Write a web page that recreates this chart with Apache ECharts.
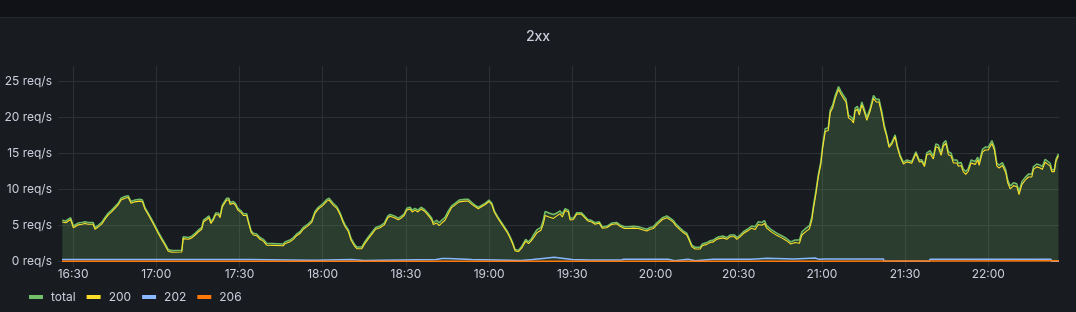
<!DOCTYPE html>
<html><head><meta charset="utf-8">
<script src="https://cdn.jsdelivr.net/npm/echarts@6/dist/echarts.min.js"></script>
<style>html,body{margin:0;padding:0;background:#181b1f;overflow:hidden}#chart{width:1076px;height:312px}</style>
</head><body><div id="chart"></div>
<script>
// Time offsets in minutes from 16:26
const startTime = '16:26';
const endOffset = 359.5;
const xTickLabels = ['16:30','17:00','17:30','18:00','18:30','19:00','19:30','20:00','20:30','21:00','21:30','22:00'];
const minutes = [0.1,1.4,3.1,4.1,4.7,5.8,7.2,8.3,9.4,11.2,11.9,13.0,14.3,15.5,16.7,17.9,19.1,20.3,21.3,22.7,23.9,24.9,26.3,28.1,29.0,29.9,31.1,32.4,33.5,34.7,36.0,37.1,38.3,39.6,43.2,43.7,45.6,46.8,48.0,49.2,50.4,51.0,52.2,53.0,53.7,54.6,55.4,56.4,57.0,57.8,58.8,59.4,60.2,60.6,61.8,62.6,63.4,64.6,65.4,66.6,67.2,68.2,69.0,70.2,71.4,72.6,73.8,74.4,79.8,80.4,82.2,83.4,84.6,85.8,87.0,88.8,90.1,91.2,92.4,94.2,95.5,96.3,97.8,99.1,100.3,101.4,102.1,103.3,104.2,105.4,106.3,108.1,109.0,110.5,111.9,113.1,114.7,116.2,117.5,118.3,119.8,121.3,122.5,123.4,124.3,125.5,126.3,127.3,128.3,129.5,130.7,131.9,133.3,133.9,135.1,136.0,136.9,138.1,139.3,140.5,141.7,143.2,145.3,146.5,147.8,148.9,150.1,151.4,152.5,154.0,155.0,155.9,157.1,158.3,159.5,160.7,161.6,162.4,163.4,164.6,165.8,167.2,168.2,169.1,170.0,171.2,172.7,173.6,174.2,175.6,177.2,178.4,179.6,180.4,181.4,182.6,183.2,184.4,185.6,187.2,188.4,189.6,191.0,192.2,193.7,194.8,196.4,198.2,200.0,201.2,202.8,204.2,206.0,207.8,209.6,210.9,212.1,213.2,214.5,215.7,216.5,218.1,219.3,220.5,221.3,222.9,224.1,225.3,226.1,227.1,228.3,230.1,230.9,232.5,233.7,234.9,235.7,236.9,238.5,239.7,240.9,242.5,243.3,244.5,245.7,247.3,248.7,249.9,251.1,252.3,253.3,254.1,255.9,257.7,259.5,261.1,262.8,264.3,265.9,266.8,268.3,269.5,270.4,270.9,271.9,272.7,273.6,274.3,275.2,276.3,277.0,277.9,278.8,280.0,280.8,281.8,282.7,283.6,284.8,285.4,286.0,286.8,287.5,288.4,289.2,290.2,291.4,292.6,293.6,294.6,295.6,296.5,297.4,298.2,299.2,300.4,301.2,302.2,303.4,304.6,306.4,307.9,309.1,310.0,311.0,311.8,313.0,314.2,315.1,316.0,317.0,317.8,318.7,319.6,320.6,321.4,322.7,323.2,324.2,325.0,325.9,326.8,327.8,329.3,330.2,330.7,331.9,332.9,334.0,335.3,336.2,337.1,337.9,339.1,340.3,341.0,341.9,343.1,344.3,345.1,346.1,347.3,348.5,349.7,350.3,351.5,352.7,353.5,354.5,355.5,356.3,356.9,357.8,358.4,359.3];
const totalValues = [5.7,5.6,6.05,4.9,4.7,5.3,5.4,5.5,5.4,5.4,4.7,5.0,5.4,6.1,6.7,7.1,7.6,8.1,8.75,9.0,9.1,8.3,8.5,8.6,8.5,7.5,6.7,5.8,5.0,4.1,3.2,2.5,1.65,1.5,1.55,3.4,3.3,3.5,3.9,4.35,4.7,5.7,6.05,6.3,5.5,6.0,6.7,6.7,6.3,7.8,8.4,8.75,8.75,8.15,8.3,8.0,7.35,7.0,6.6,6.6,5.65,4.25,3.9,3.8,3.3,3.05,2.5,2.4,2.4,2.7,2.95,3.3,3.8,4.1,4.7,5.2,5.7,6.9,7.5,8.05,8.6,8.75,8.05,7.6,6.7,5.6,5.05,4.35,3.2,2.4,2.0,2.0,2.6,3.4,4.1,4.7,4.9,5.3,6.3,6.5,6.3,6.0,6.3,6.6,7.35,7.5,7.1,7.35,7.1,7.5,7.2,6.7,6.0,5.35,5.7,5.35,5.7,6.1,7.0,7.7,8.05,8.5,8.6,8.6,8.15,7.8,7.5,7.8,8.05,8.5,8.05,7.0,6.2,5.5,4.8,4.1,3.4,2.7,1.65,1.55,2.1,3.05,2.7,3.05,3.65,4.35,4.7,5.8,6.9,6.7,6.5,6.7,7.0,6.55,7.3,7.1,6.0,6.0,6.75,6.75,6.3,5.8,5.65,5.35,5.5,4.8,4.85,5.3,5.4,5.05,4.8,4.8,4.85,4.8,4.6,4.45,4.7,4.8,5.35,5.75,6.05,6.3,6.0,5.65,5.2,4.6,4.2,3.9,3.2,2.25,1.95,1.95,2.4,2.6,2.85,2.95,3.2,3.4,3.5,3.3,3.65,3.65,3.3,3.65,4.1,4.5,4.9,4.8,5.5,5.4,5.65,4.95,4.35,3.9,3.55,3.2,2.7,2.95,2.95,4.1,4.6,4.95,6.2,7.6,9.9,12.0,13.8,16.15,18.4,18.55,21.0,21.7,23.0,24.25,23.65,23.0,22.5,20.3,19.95,19.6,21.25,21.5,20.7,22.1,21.25,19.95,21.25,23.0,22.5,22.5,20.8,18.9,17.55,16.05,16.5,17.55,16.05,14.75,13.75,14.05,13.85,15.2,14.05,14.1,13.4,15.0,15.35,14.6,16.3,16.15,15.1,16.4,16.75,15.2,15.0,14.05,14.05,13.6,13.7,12.8,12.45,12.9,14.05,13.85,14.45,13.7,15.55,15.85,15.85,16.75,15.85,13.6,13.35,13.7,12.7,11.3,10.45,10.9,10.75,9.65,11.05,11.65,12.1,12.1,13.15,13.5,13.35,13.15,14.15,13.85,13.6,12.7,12.7,14.15,14.9];
const values200 = [5.45,5.35,5.8,4.65,4.45,5.05,5.15,5.25,5.15,5.15,4.45,4.75,5.15,5.85,6.45,6.85,7.35,7.85,8.5,8.75,8.85,8.05,8.25,8.35,8.25,7.25,6.45,5.55,4.75,3.85,2.95,2.25,1.4,1.25,1.3,3.15,3.05,3.25,3.65,4.1,4.45,5.45,5.8,6.05,5.25,5.75,6.45,6.45,6.05,7.55,8.15,8.5,8.5,7.9,8.05,7.75,7.1,6.75,6.35,6.35,5.4,4.0,3.65,3.55,3.05,2.8,2.25,2.15,2.15,2.45,2.7,3.05,3.55,3.85,4.45,4.95,5.45,6.65,7.25,7.8,8.35,8.5,7.8,7.35,6.45,5.35,4.8,4.1,2.95,2.15,1.75,1.75,2.35,3.15,3.85,4.45,4.65,5.05,6.05,6.25,6.05,5.75,6.05,6.35,7.1,7.25,6.85,7.1,6.85,7.25,6.95,6.45,5.75,5.1,5.3,4.95,5.3,5.7,6.6,7.45,7.8,8.25,8.35,8.35,7.9,7.6,7.3,7.6,7.85,8.3,7.85,6.8,6.0,5.3,4.6,3.9,3.2,2.5,1.45,1.35,1.85,2.8,2.45,2.8,3.25,3.95,4.3,5.25,6.35,6.15,5.95,6.3,6.6,6.15,7.05,6.85,5.75,5.8,6.55,6.55,6.1,5.6,5.45,5.15,5.3,4.6,4.65,5.1,5.2,4.85,4.55,4.55,4.6,4.55,4.35,4.2,4.45,4.55,5.1,5.5,5.8,6.05,5.75,5.4,4.95,4.35,3.95,3.65,2.95,2.0,1.7,1.7,2.15,2.35,2.6,2.7,2.95,3.15,3.25,3.05,3.4,3.4,3.05,3.4,3.85,4.25,4.6,4.4,5.1,5.0,5.25,4.6,4.05,3.6,3.25,2.9,2.4,2.6,2.5,3.65,4.15,4.5,5.75,7.15,9.5,11.7,13.4,15.75,18.0,18.15,20.6,21.3,22.6,23.85,23.25,22.6,22.1,19.9,19.55,19.2,20.85,21.1,20.3,21.7,20.85,19.55,20.85,22.6,22.1,22.1,20.4,18.5,17.3,15.8,16.25,17.3,15.8,14.5,13.5,13.8,13.6,14.95,13.8,13.85,13.15,14.75,14.95,14.2,15.9,15.75,14.7,16.0,16.35,14.8,14.6,13.65,13.65,13.2,13.3,12.4,12.05,12.5,13.65,13.45,14.05,13.3,15.15,15.45,15.45,16.35,15.45,13.2,12.95,13.3,12.3,10.9,10.05,10.5,10.35,9.25,10.65,11.25,11.7,11.7,12.75,13.1,12.95,12.75,13.75,13.45,13.2,12.45,12.45,13.9,14.65];
const minutes202 = [0,19.0,19.3,19.7,32.1,32.4,32.7,34.0,34.3,34.6,38.9,39.2,39.8,67.6,67.8,89.8,90.0,90.4,91.6,91.8,104.4,104.6,108.8,109.0,134.9,135.1,137.0,137.2,137.6,139.2,139.4,147.7,147.9,165.7,165.9,169.6,169.8,173.4,173.6,177.4,177.6,181.0,181.2,184.0,184.2,190.2,190.4,190.7,192.8,193.0,193.3,199.1,199.3,199.6,201.7,201.9,202.5,218.6,218.8,220.9,221.1,225.8,226.0,228.3,228.5,234.7,234.9,235.1,248.5,248.7,254.3,254.5,264.0,264.2,271.6,271.8,273.0,273.2,275.0,275.2,275.4,279.8,280.0,280.2,282.5,282.7,282.9,296.2,296.4,312.8,313.0,356.6,356.8,359.5];
const values202 = [0.25,0.25,0.05,0.25,0.25,0.05,0.25,0.25,0.05,0.25,0.25,0.05,0.25,0.25,0.15,0.15,0.3,0.15,0.15,0.25,0.25,0.1,0.1,0.25,0.25,0.4,0.4,0.3,0.4,0.4,0.25,0.25,0.12,0.12,0.25,0.25,0.4,0.4,0.55,0.55,0.4,0.4,0.25,0.25,0.18,0.18,0.3,0.18,0.18,0.3,0.18,0.18,0.3,0.18,0.18,0.3,0.28,0.28,0.08,0.08,0.28,0.28,0.08,0.08,0.28,0.28,0.08,0.28,0.28,0.42,0.42,0.32,0.32,0.45,0.45,0.27,0.27,0.32,0.32,0.45,0.32,0.32,0.45,0.32,0.32,0.45,0.32,0.32,0,0,0.28,0.28,0,0];
const minutes206 = [0,273.5,273.7,359.5];
const values206 = [0,0,0.08,0.08];
const seriesNames = ['total','200','202','206'];
const seriesColors = ['#73bf69','#fade2a','#8ab8ff','#ff780a'];
const panelTitle = '2xx';
const yUnit = ' req/s';

const hm = s => { const [h,m] = s.split(':').map(Number); return h*60+m; };
const startMin = hm(startTime);
const tickOffsets = xTickLabels.map(s => hm(s) - startMin);
const offsetToLabel = {};
xTickLabels.forEach((s,i) => { offsetToLabel[tickOffsets[i]] = s; });
const pairs = (ts, vs) => ts.map((t,i)=>[t, vs[i]]);
const grid = '#2c3035';
const txt = '#ccccdc';
const font = 'Inter, "Noto Sans", sans-serif';
const widths = [1.5, 1.1, 1.5, 1.5];

const chart = echarts.init(document.getElementById('chart'), null, {renderer:'canvas'});
const mk = (i, data, extra) => Object.assign({
  name: seriesNames[i], type:'line', data, showSymbol:false, symbol:'none', clip:false,
  color: seriesColors[i], lineStyle:{width:widths[i], color: seriesColors[i]}, animation:false, z: 2+i
}, extra||{});
chart.setOption({
  backgroundColor:'#181b1f',
  animation:false,
  graphic:[
    {type:'rect', shape:{x:0,y:0,width:1076,height:17}, style:{fill:'#111217'}, silent:true},
    {type:'rect', shape:{x:0,y:17,width:1076,height:1}, style:{fill:'#25282d'}, silent:true}
  ],
  title:{text: panelTitle, left:'center', top:25, textStyle:{color:txt, fontSize:14, fontWeight:500, fontFamily:font}},
  legend:{left:24, top:286, itemWidth:14, itemHeight:4, itemGap:11, icon:'rect',
    textStyle:{color:txt, fontSize:12, fontFamily:font, padding:[0,0,0,3]}, data: seriesNames},
  grid:{left:62, right:17, top:66, height:195.3, containLabel:false},
  xAxis:{type:'value', min:0, max:endOffset,
    axisLine:{show:false},
    axisTick:{show:true, length:6, lineStyle:{color:grid}, customValues: tickOffsets},
    splitLine:{show:true, lineStyle:{color:grid, width:1}},
    axisLabel:{color:txt, fontSize:12, fontFamily:font, margin:7, hideOverlap:false, customValues: tickOffsets,
      formatter: v => offsetToLabel[Math.round(v)] || ''}},
  yAxis:{type:'value', min:0, max:27.1, interval:5,
    axisLine:{show:false}, axisTick:{show:true, length:4, lineStyle:{color:grid}},
    splitLine:{show:true, lineStyle:{color:[grid,grid,grid,grid,grid,grid,'rgba(0,0,0,0)'], width:1}},
    axisLabel:{color:txt, fontSize:12, fontFamily:font, margin:10, showMaxLabel:false,
      formatter: v => (v>25?'':v + yUnit)}},
  series:[
    mk(0, pairs(minutes,totalValues), {areaStyle:{color:'rgba(115,191,105,0.3)', origin:'start'}}),
    mk(1, pairs(minutes,values200)),
    mk(2, pairs(minutes202,values202)),
    mk(3, pairs(minutes206,values206))
  ]
});
</script></body></html>
